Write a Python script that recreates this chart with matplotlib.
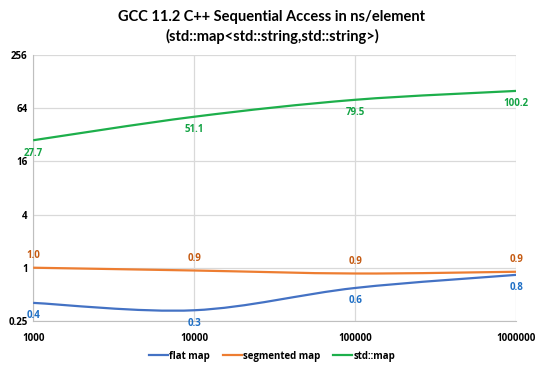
import numpy as np
import matplotlib.pyplot as plt
from matplotlib.path import Path
from matplotlib.patches import PathPatch
from matplotlib.lines import Line2D

# data
sizes = [1000, 10000, 100000, 1000000]
flat_map = [0.4, 0.33, 0.59, 0.83]
segmented_map = [1.0, 0.93, 0.86, 0.9]
std_map = [27.7, 51.1, 79.5, 100.2]
flat_labels = ["0.4", "0.3", "0.6", "0.8"]
seg_labels = ["1.0", "0.9", "0.9", "0.9"]
std_labels = ["27.7", "51.1", "79.5", "100.2"]
y_ticks = [0.25, 1, 4, 16, 64, 256]

SMALL = 'Open Sans'
TITLE = 'Lato'


def smooth_path(xs, ys):
    # Excel-like smoothed line: cubic bezier segments built in log space
    lx = np.log10(xs)
    ly = np.log2(ys)
    n = len(lx)
    verts = [(xs[0], ys[0])]
    codes = [Path.MOVETO]
    for i in range(n - 1):
        p0 = i - 1 if i > 0 else i
        p3 = i + 2 if i + 2 < n else i + 1
        c1x = lx[i] + (lx[i + 1] - lx[p0]) / 6
        c1y = ly[i] + (ly[i + 1] - ly[p0]) / 6
        c2x = lx[i + 1] - (lx[p3] - lx[i]) / 6
        c2y = ly[i + 1] - (ly[p3] - ly[i]) / 6
        verts += [(10 ** c1x, 2 ** c1y), (10 ** c2x, 2 ** c2y), (xs[i + 1], ys[i + 1])]
        codes += [Path.CURVE4] * 3
    return Path(verts, codes)


fig = plt.figure(figsize=(5.44, 3.71), dpi=100)
ax = fig.add_axes([0.061, 0.135, 0.888, 0.717])
ax.set_xscale('log')
ax.set_yscale('log', base=2)
ax.set_xlim(1000, 1000000)
ax.set_ylim(0.25, 256)

series = [
    (flat_map, flat_labels, '#4472C4', '#1F6FC5', -13, 'flat map'),
    (segmented_map, seg_labels, '#ED7D31', '#C55A11', 12, 'segmented map'),
    (std_map, std_labels, '#1DAF4B', '#13A344', -13, 'std::map'),
]
handles = []
for vals, labels, col, lcol, dy, name in series:
    ax.add_patch(PathPatch(smooth_path(sizes, vals), facecolor='none', edgecolor=col,
                           linewidth=1.6, transform=ax.transData, zorder=3))
    for x, v, t in zip(sizes, vals, labels):
        ax.annotate(t, (x, v), xytext=(0, dy), textcoords='offset pixels',
                    ha='center', va='center', fontsize=7, fontweight='bold',
                    color=lcol, family=SMALL, zorder=4)
    handles.append(Line2D([], [], color=col, linewidth=1.6, label=name))

ax.set_xticks(sizes)
ax.set_xticklabels([str(s) for s in sizes])
ax.xaxis.set_minor_locator(plt.NullLocator())
ax.set_yticks(y_ticks)
ax.set_yticklabels(['0.25', '1', '4', '16', '64', '256'])
ax.yaxis.set_minor_locator(plt.NullLocator())
for lab in ax.get_xticklabels() + ax.get_yticklabels():
    lab.set_fontweight('bold')
    lab.set_fontsize(7)
    lab.set_family(SMALL)
ax.tick_params(length=0, pad=4)
ax.tick_params(axis='x', pad=9)

ax.grid(True, color='#D9D9D9', linewidth=0.9)
ax.set_axisbelow(True)
for s in ['top', 'right']:
    ax.spines[s].set_visible(False)
ax.spines['left'].set_color('#BFBFBF')
ax.spines['bottom'].set_color('#BFBFBF')

fig.text(0.5, 0.953, "GCC 11.2 C++ Sequential Access in ns/element", ha='center', va='center',
         fontsize=10.5, fontweight='bold', family=TITLE)
fig.text(0.5, 0.903, "(std::map<std::string,std::string>)", ha='center', va='center',
         fontsize=10.5, fontweight='bold', family=TITLE)

leg = fig.legend(handles=handles, loc='center', bbox_to_anchor=(0.5, 0.04), ncol=3,
                 frameon=False, handlelength=2.0, handletextpad=0.1, columnspacing=1.3,
                 prop={'family': SMALL, 'weight': 'bold', 'size': 7})

fig.savefig('out.png', dpi=100)
